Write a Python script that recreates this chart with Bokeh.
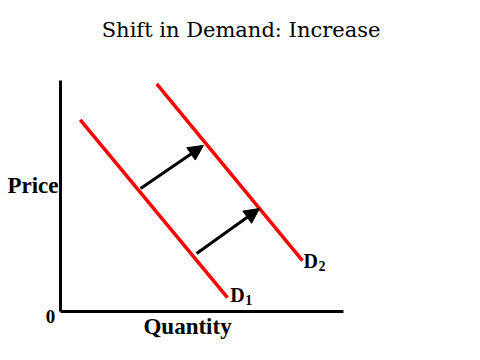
from bokeh.plotting import figure
from bokeh.models import ColumnDataSource, Arrow, NormalHead, Range1d
from bokeh.core.properties import value
from bokeh.embed import file_html
from bokeh.resources import INLINE

# ---- data (quantity, price units) ----
d1_q = [0.7, 5.9]
d1_p = [8.3, 0.6]
d2_q = [3.4, 8.55]
d2_p = [9.85, 2.2]

arrow_q_start = [2.83, 4.81]
arrow_p_start = [5.32, 2.51]
arrow_q_end = [5.05, 7.03]
arrow_p_end = [7.19, 4.46]

axis_q_max = 10.0
axis_p_max = 10.0

title_text = "Shift in Demand: Increase"
x_label = "Quantity"
y_label = "Price"
origin_label = "0"
curve_names = ["D", "D"]
curve_subs = ["1", "2"]

p = figure(width=464, height=344, output_backend="svg", toolbar_location=None,
           x_range=Range1d(-2.12, 14.276), y_range=Range1d(-1.4286, 13.463),
           min_border=0, x_axis_type=None, y_axis_type=None)
p.outline_line_color = None
p.grid.visible = False
p.background_fill_color = "white"
p.border_fill_color = "white"

# axes
p.line([0, 0], [axis_p_max, 0], line_color="black", line_width=3)
p.line([0, axis_q_max], [0, 0], line_color="black", line_width=3)

# demand curves
p.line(d1_q, d1_p, line_color="#ff0000", line_width=3.5)
p.line(d2_q, d2_p, line_color="#ff0000", line_width=3.5)

# shift arrows
arr_src = ColumnDataSource(dict(x0=arrow_q_start, y0=arrow_p_start,
                                x1=arrow_q_end, y1=arrow_p_end))
p.add_layout(Arrow(end=NormalHead(size=15, fill_color="black", line_color="black"),
                   x_start="x0", y_start="y0", x_end="x1", y_end="y1",
                   source=arr_src, line_color="black", line_width=3))

serif = value("DejaVu Serif")
tserif = value("Liberation Serif")
dy = 0.346  # text baseline correction

# title
p.text(x=[6.38], y=[11.82 + dy], text=[title_text], text_font=serif,
       text_font_size="21px", text_align="center", text_baseline="alphabetic",
       text_color="black")

# axis labels
p.text(x=[-0.07], y=[5.11 + dy], text=[y_label], text_font=tserif, text_font_style="bold",
       text_font_size="23px", text_align="right", text_baseline="alphabetic")
p.text(x=[4.49], y=[-1.0 + dy], text=[x_label], text_font=tserif, text_font_style="bold",
       text_font_size="23px", text_align="center", text_baseline="alphabetic")
p.text(x=[-0.35], y=[-0.56 + dy], text=[origin_label], text_font=tserif, text_font_style="bold",
       text_font_size="19px", text_align="center", text_baseline="alphabetic")

# curve labels at the lower end of each curve
lab_q = [d1_q[1] + 0.1, d2_q[1] + 0.04]
lab_p = [d1_p[1] - 0.25 + dy, d2_p[1] - 0.38 + dy]
p.text(x=lab_q, y=lab_p, text=curve_names, text_font=tserif, text_font_style="bold",
       text_font_size="20px", text_align="left", text_baseline="alphabetic")
p.text(x=lab_q, y=lab_p, text=curve_subs, text_font=tserif, text_font_style="bold",
       text_font_size="14px", text_align="left", text_baseline="alphabetic",
       x_offset=15, y_offset=5)

open("out.html", "w").write(file_html(p, INLINE))
